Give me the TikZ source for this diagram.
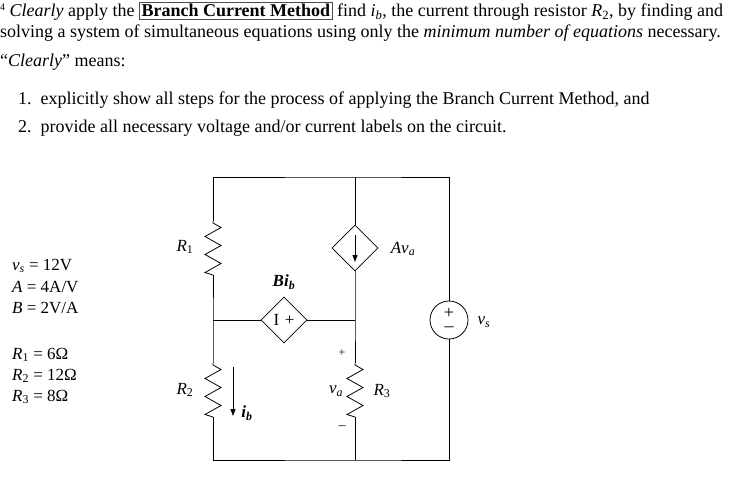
\documentclass[tikz,border=0pt]{standalone}
\usepackage{fontspec}
\setmainfont{Liberation Serif}
\usetikzlibrary{shapes.geometric,arrows.meta}
\newcommand{\vsub}[2]{\textit{#1}\textsubscript{\textit{#2}}}
\newcommand{\rsub}[2]{\textit{#1}\textsubscript{#2}}
\begin{document}
\begin{tikzpicture}[x=1pt,y=-1pt,
  txt/.style={anchor=west,inner sep=0pt,font=\fontsize{18}{20}\selectfont},
  par/.style={anchor=west,inner sep=0pt,font=\fontsize{17}{19}\selectfont},
  lbl/.style={inner sep=0pt,font=\fontsize{17}{19}\selectfont},
  wire/.style={line width=0.8pt},
  dsrc/.style={draw,diamond,minimum width=46pt,minimum height=46pt,inner sep=0pt,line width=0.8pt},
  vsrc/.style={draw,circle,minimum size=38pt,inner sep=0pt,line width=0.8pt},
  zig/.pic={\draw[wire] (0,0) -- (0,2) -- (8,6.5) -- (-8,15.5) -- (8,24.5) -- (-8,33.5) -- (8,42.5) -- (-8,51.5) -- (0,54);}]
\useasboundingbox (0,0) rectangle (753,480);
\setlength{\fboxsep}{2pt}\setlength{\fboxrule}{0.4pt}
\node[txt] at (0,11) {\raisebox{6pt}{\fontsize{10}{10}\selectfont 4} \textit{Clearly} apply the \textcolor{black!70}{\fbox{\textcolor{black}{\textbf{Branch Current Method}}}} find \vsub{i}{b}, the current through resistor \rsub{R}{2}, by finding and};
\node[txt] at (0,33) {solving a system of simultaneous equations using only the \textit{minimum number of equations} necessary.};
\node[txt] at (0,62) {``\textit{Clearly}'' means:};
\node[txt] at (18,100) {1.\ \ explicitly show all steps for the process of applying the Branch Current Method, and};
\node[txt] at (18,128) {2.\ \ provide all necessary voltage and/or current labels on the circuit.};
\node[par] at (12,266) {\vsub{v}{s} = 12V};
\node[par] at (12,287) {\textit{A} = 4A/V};
\node[par] at (12,308) {\textit{B} = 2V/A};
\node[par] at (12,355) {\rsub{R}{1} = 6Ω};
\node[par] at (12,376) {\rsub{R}{2} = 12Ω};
\node[par] at (12,397) {\rsub{R}{3} = 8Ω};
\coordinate (tl) at (213,177); \coordinate (tm) at (355,177); \coordinate (tr) at (449,177);
\coordinate (bl) at (213,460); \coordinate (bm) at (355,460); \coordinate (br) at (449,460);
\coordinate (ml) at (213,320); \coordinate (mm) at (355,320);
\coordinate (r1t) at (213,221); \coordinate (r1b) at (213,275);
\coordinate (r2t) at (213,363); \coordinate (r2b) at (213,417);
\coordinate (r3t) at (355,363); \coordinate (r3b) at (355,417);
\coordinate (aa) at (355,235); \coordinate (ab) at (355,262);
\coordinate (ia) at (233,367); \coordinate (ib) at (233,416);
\node[dsrc] (A) at (355,248) {};
\node[dsrc,font=\fontsize{17}{17}\selectfont] (B) at (284,320) {I\,\,+};
\node[vsrc,align=center,font=\fontsize{18}{13}\selectfont] (V) at (449,320) {+\\–};
\draw[wire] (bl) -- (r2b) (r2t) -- (ml) -- (r1b) (r1t) -- (tl) -- (tm) -- (tr) -- (V.north)
  (V.south) -- (br) -- (bm) -- (bl);
\draw[wire] (tm) -- (A.north) (A.south) -- (mm) -- (r3t) (r3b) -- (bm);
\draw[wire] (ml) -- (B.west) (B.east) -- (mm);
\pic at (r1t) {zig}; \pic at (r2t) {zig}; \pic at (r3t) {zig};
\draw[line width=0.9pt,-{Triangle[length=7pt,width=5pt]}] (aa) -- (ab);
\draw[line width=0.9pt,-{Triangle[length=7pt,width=5pt]}] (ia) -- (ib);
\node[lbl] at (185,247) {\rsub{R}{1}};
\node[lbl] at (403,249) {\textit{A}\vsub{v}{a}};
\node[lbl] at (284,282) {\textbf{\textit{B}\vsub{i}{b}}};
\node[lbl] at (484,322) {\vsub{v}{s}};
\node[lbl] at (185,390) {\rsub{R}{2}};
\node[lbl] at (336,391) {\vsub{v}{a}};
\node[lbl] at (382,391) {\rsub{R}{3}};
\node[lbl] at (247,413) {\textbf{\vsub{i}{b}}};
\node[lbl,font=\fontsize{12}{12}\selectfont] at (342,353) {+};
\node[lbl,font=\fontsize{14}{14}\selectfont] at (342,428) {–};
\end{tikzpicture}
\end{document}
